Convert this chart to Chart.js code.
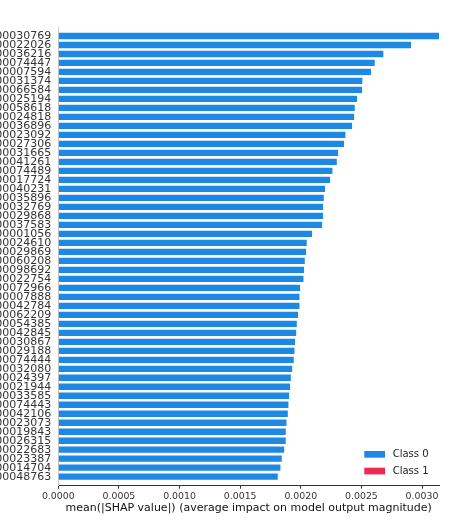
<!DOCTYPE html>
<html>
<head>
<meta charset="utf-8">
<script src="https://cdn.jsdelivr.net/npm/chart.js@4/dist/chart.umd.min.js"></script>
<style>
    html, body { margin: 0; padding: 0; background: #fff; }
    #marco { position: relative; width: 474px; height: 529px; overflow: hidden; }
    #graficoShap { position: absolute; left: -40px; top: 0; }
</style>
</head>
<body>
<div id="marco"><canvas id="graficoShap" width="514" height="529"></canvas></div>
<script>
const variables = [
    '00030769', '00022026', '00036216', '00074447', '00007594', '00031374', '00066584', '00025194',
    '00058618', '00024818', '00036896', '00023092', '00027306', '00031665', '00041261', '00074489',
    '00017724', '00040231', '00035896', '00032769', '00029868', '00037583', '00001056', '00024610',
    '00029869', '00060208', '00098692', '00022754', '00072966', '00007888', '00042784', '00062209',
    '00054385', '00042845', '00030867', '00029188', '00074444', '00032080', '00024397', '00021944',
    '00033585', '00074443', '00042106', '00023073', '00019843', '00026315', '00022683', '00023387',
    '00014704', '00048763'
];

const clase0 = [
    0.003140, 0.002909, 0.002681, 0.002610, 0.002580, 0.002508, 0.002505, 0.002464,
    0.002445, 0.002440, 0.002423, 0.002368, 0.002357, 0.002308, 0.002297, 0.002261,
    0.002242, 0.002200, 0.002190, 0.002184, 0.002184, 0.002176, 0.002093, 0.002049,
    0.002044, 0.002033, 0.002027, 0.002022, 0.001995, 0.001989, 0.001989, 0.001978,
    0.001967, 0.001962, 0.001953, 0.001948, 0.001942, 0.001929, 0.001918, 0.001912,
    0.001904, 0.001898, 0.001893, 0.001882, 0.001876, 0.001876, 0.001863, 0.001843,
    0.001832, 0.001810
];

// Class 1 no se ve en el gráfico
const clase1 = variables.map(() => 0);

const series = ['Class 0', 'Class 1'];
const colores = ['#1E88E5', '#EE2A50'];
const ejeXMax = 0.00314;
const ejeXPaso = 0.0005;
const tituloX = 'mean(|SHAP value|) (average impact on model output magnitude)';

const fuente = 'DejaVu Sans';

// leyenda dentro del área, abajo a la derecha
const leyendaAdentro = {
    id: 'leyendaAdentro',
    afterDraw(chart) {
        const { ctx, chartArea } = chart;
        ctx.save();
        chart.data.datasets.forEach((ds, i) => {
            const x = chartArea.right - 74.7;
            const y = chartArea.bottom - 34.7 + i * 16.7;
            ctx.fillStyle = ds.backgroundColor;
            ctx.fillRect(x, y, 20.7, 6.7);
            ctx.fillStyle = '#222';
            ctx.font = '10px "' + fuente + '"';
            ctx.textBaseline = 'middle';
            ctx.textAlign = 'left';
            ctx.fillText(ds.label, x + 28.4, y + 3.6);
        });
        ctx.restore();
    }
};

const dataChart = {
    datasets: [
        {
            label: series[0],
            data: clase0.map((v, i) => ({ x: v, y: i })),
            backgroundColor: colores[0],
            borderWidth: 0,
            barPercentage: 0.7,
            categoryPercentage: 1
        },
        {
            label: series[1],
            data: clase1.map((v, i) => ({ x: v, y: i })),
            backgroundColor: colores[1],
            borderWidth: 0,
            barPercentage: 0.7,
            categoryPercentage: 1
        }
    ]
};

const config = {
    type: 'bar',
    data: dataChart,
    options: {
        indexAxis: 'y',
        responsive: false,
        animation: false,
        layout: { padding: { top: 27, right: 35, bottom: 0, left: 0 } },
        plugins: {
            legend: { display: false },
            tooltip: { enabled: false }
        },
        scales: {
            x: {
                type: 'linear',
                stacked: true,
                min: 0,
                max: ejeXMax,
                afterFit: (scale) => { scale.height = 43.3; },
                border: { display: true, color: '#333333', width: 1 },
                grid: { display: true, drawOnChartArea: false, tickLength: 3, color: '#333333' },
                ticks: {
                    stepSize: ejeXPaso,
                    includeBounds: false,
                    padding: 2,
                    color: '#333333',
                    font: { family: fuente, size: 9.4 },
                    callback: (v) => v.toFixed(4)
                },
                title: {
                    display: true,
                    text: tituloX,
                    color: '#111',
                    font: { family: fuente, size: 11 },
                    padding: { top: 0, bottom: 14 }
                }
            },
            y: {
                type: 'linear',
                stacked: true,
                reverse: true,
                offset: false,
                min: -1,
                max: variables.length,
                afterFit: (scale) => { scale.width = 98.3; },
                border: { display: true, color: '#c8c8c8', width: 1 },
                grid: { display: false, drawTicks: false, offset: false },
                ticks: {
                    stepSize: 1,
                    autoSkip: false,
                    maxTicksLimit: 200,
                    padding: 7,
                    color: '#333333',
                    font: { family: fuente, size: 11 },
                    callback: (v) => variables[v] || ''
                }
            }
        }
    },
    plugins: [leyendaAdentro]
};

new Chart(document.getElementById('graficoShap'), config);
</script>
</body>
</html>
